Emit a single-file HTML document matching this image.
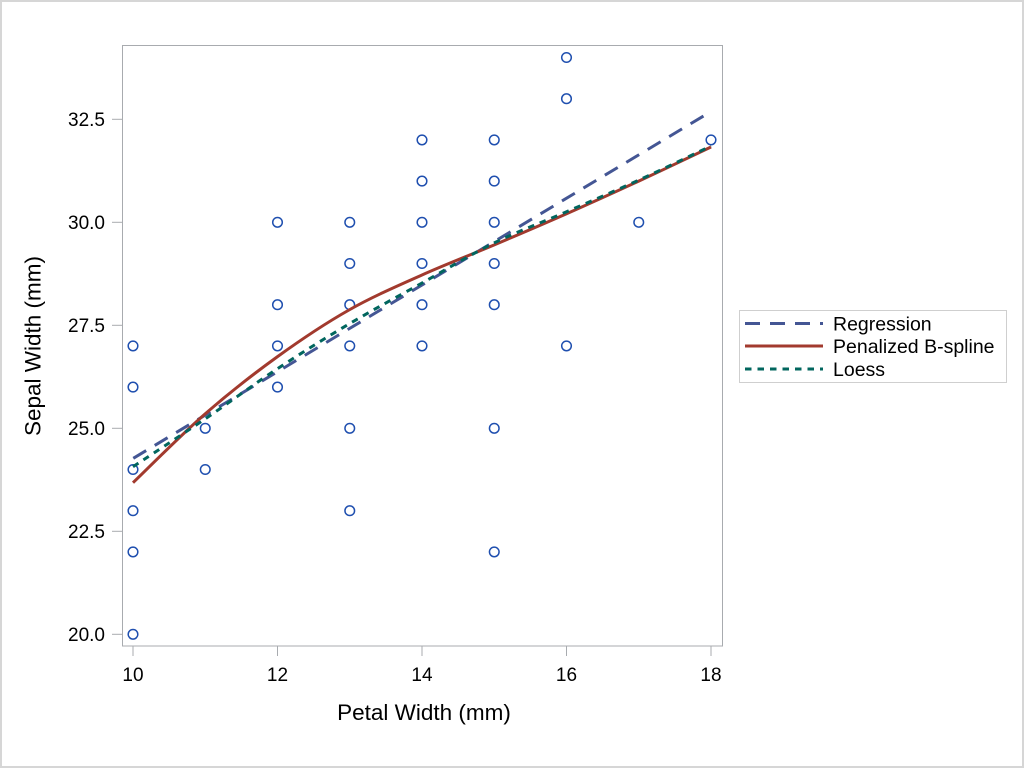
<!DOCTYPE html>
<html>
<head>
<meta charset="utf-8">
<style>
  html, body { margin: 0; padding: 0; background: #ffffff; }
  svg { display: block; }
  text { font-family: "Liberation Sans", Arial, sans-serif; fill: #000; }
</style>
</head>
<body>
<svg width="1024" height="768" viewBox="0 0 1024 768" xmlns="http://www.w3.org/2000/svg">
  <rect x="0" y="0" width="1024" height="768" fill="#ffffff"/>
  <rect x="1" y="1" width="1022" height="766" fill="none" stroke="#d6d6d6" stroke-width="2"/>

  <!-- plot frame -->
  <rect x="122.5" y="45.5" width="600" height="600.5" fill="none" stroke="#a8abaf" stroke-width="1"/>

  <!-- y ticks -->
  <g stroke="#a8abaf" stroke-width="1">
    <line x1="112" y1="634.3" x2="122" y2="634.3"/>
    <line x1="112" y1="531.3" x2="122" y2="531.3"/>
    <line x1="112" y1="428.3" x2="122" y2="428.3"/>
    <line x1="112" y1="325.3" x2="122" y2="325.3"/>
    <line x1="112" y1="222.3" x2="122" y2="222.3"/>
    <line x1="112" y1="119.3" x2="122" y2="119.3"/>
  </g>
  <g font-size="19" text-anchor="end">
    <text x="105" y="641">20.0</text>
    <text x="105" y="538">22.5</text>
    <text x="105" y="435">25.0</text>
    <text x="105" y="332">27.5</text>
    <text x="105" y="229">30.0</text>
    <text x="105" y="126">32.5</text>
  </g>

  <!-- x ticks -->
  <g stroke="#a8abaf" stroke-width="1">
    <line x1="133" y1="646" x2="133" y2="656"/>
    <line x1="277.5" y1="646" x2="277.5" y2="656"/>
    <line x1="422" y1="646" x2="422" y2="656"/>
    <line x1="566.5" y1="646" x2="566.5" y2="656"/>
    <line x1="711" y1="646" x2="711" y2="656"/>
  </g>
  <g font-size="19" text-anchor="middle">
    <text x="133" y="681">10</text>
    <text x="277.5" y="681">12</text>
    <text x="422" y="681">14</text>
    <text x="566.5" y="681">16</text>
    <text x="711" y="681">18</text>
  </g>

  <!-- axis labels -->
  <text x="424" y="720" font-size="22.5" text-anchor="middle">Petal Width (mm)</text>
  <text transform="translate(40.5,346) rotate(-90)" font-size="22.5" text-anchor="middle">Sepal Width (mm)</text>

  <!-- data markers -->
  <g fill="none" stroke="#1f4faf" stroke-width="1.5">
    <!-- x=10 -->
    <circle cx="133" cy="345.9" r="4.8"/>
    <circle cx="133" cy="387.1" r="4.8"/>
    <circle cx="133" cy="469.5" r="4.8"/>
    <circle cx="133" cy="510.7" r="4.8"/>
    <circle cx="133" cy="551.9" r="4.8"/>
    <circle cx="133" cy="634.3" r="4.8"/>
    <!-- x=11 -->
    <circle cx="205.25" cy="428.3" r="4.8"/>
    <circle cx="205.25" cy="469.5" r="4.8"/>
    <!-- x=12 -->
    <circle cx="277.5" cy="222.3" r="4.8"/>
    <circle cx="277.5" cy="304.7" r="4.8"/>
    <circle cx="277.5" cy="345.9" r="4.8"/>
    <circle cx="277.5" cy="387.1" r="4.8"/>
    <!-- x=13 -->
    <circle cx="349.75" cy="222.3" r="4.8"/>
    <circle cx="349.75" cy="263.5" r="4.8"/>
    <circle cx="349.75" cy="304.7" r="4.8"/>
    <circle cx="349.75" cy="345.9" r="4.8"/>
    <circle cx="349.75" cy="428.3" r="4.8"/>
    <circle cx="349.75" cy="510.7" r="4.8"/>
    <!-- x=14 -->
    <circle cx="422" cy="139.9" r="4.8"/>
    <circle cx="422" cy="181.1" r="4.8"/>
    <circle cx="422" cy="222.3" r="4.8"/>
    <circle cx="422" cy="263.5" r="4.8"/>
    <circle cx="422" cy="304.7" r="4.8"/>
    <circle cx="422" cy="345.9" r="4.8"/>
    <!-- x=15 -->
    <circle cx="494.25" cy="139.9" r="4.8"/>
    <circle cx="494.25" cy="181.1" r="4.8"/>
    <circle cx="494.25" cy="222.3" r="4.8"/>
    <circle cx="494.25" cy="263.5" r="4.8"/>
    <circle cx="494.25" cy="304.7" r="4.8"/>
    <circle cx="494.25" cy="428.3" r="4.8"/>
    <circle cx="494.25" cy="551.9" r="4.8"/>
    <!-- x=16 -->
    <circle cx="566.5" cy="57.5" r="4.8"/>
    <circle cx="566.5" cy="98.7" r="4.8"/>
    <circle cx="566.5" cy="345.9" r="4.8"/>
    <!-- x=17 -->
    <circle cx="638.75" cy="222.3" r="4.8"/>
    <!-- x=18 -->
    <circle cx="711" cy="139.9" r="4.8"/>
  </g>

  <!-- Regression -->
  <line x1="133.3" y1="458.3" x2="710.5" y2="111.8" stroke="#445694" stroke-width="3" stroke-dasharray="15 10" fill="none"/>

  <!-- Penalized B-spline -->
  <path d="M133,482.7 C145,471.25 181,434.95 205,414 C229,393.05 253,374.33 277,357 C301,339.67 324.83,323.67 349,310 C373.17,296.33 397.83,285.83 422,275 C446.17,264.17 470,255.17 494,245 C518,234.83 541.83,224.67 566,214 C590.17,203.33 614.83,192.17 639,181 C663.17,169.83 699,152.67 711,147"
        fill="none" stroke="#a23a2e" stroke-width="3"/>

  <!-- Loess -->
  <path d="M133,466.7 C145,458.75 181,435.28 205,419 C229,402.72 253,384.83 277,369 C301,353.17 324.83,338.33 349,324 C373.17,309.67 397.83,296.5 422,283 C446.17,269.5 470,254.83 494,243 C518,231.17 541.83,222.5 566,212 C590.17,201.5 614.83,191 639,180 C663.17,169 699,151.67 711,146"
        fill="none" stroke="#01665e" stroke-width="3" stroke-dasharray="6.5 6"/>

  <!-- legend -->
  <rect x="739.5" y="310.5" width="267" height="72" fill="#ffffff" stroke="#cfcfcf" stroke-width="1"/>
  <line x1="745" y1="323.5" x2="823" y2="323.5" stroke="#445694" stroke-width="3" stroke-dasharray="15 10"/>
  <line x1="745" y1="346" x2="823" y2="346" stroke="#a23a2e" stroke-width="3"/>
  <line x1="745" y1="369" x2="823" y2="369" stroke="#01665e" stroke-width="3" stroke-dasharray="6.5 6"/>
  <g font-size="19.5">
    <text x="833" y="330.5">Regression</text>
    <text x="833" y="353">Penalized B-spline</text>
    <text x="833" y="376">Loess</text>
  </g>
</svg>
</body>
</html>
